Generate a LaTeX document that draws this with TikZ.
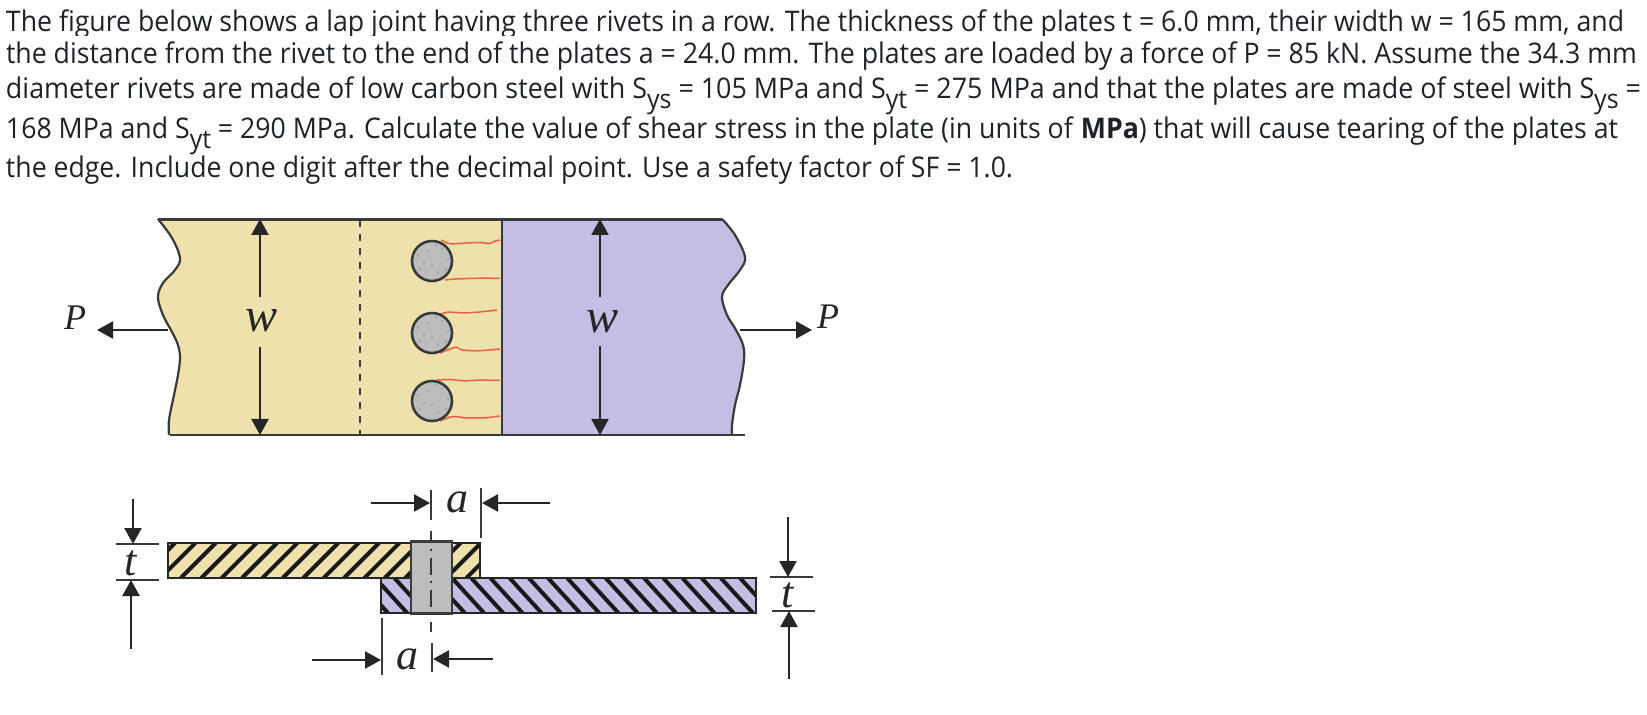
\documentclass[tikz,border=0pt]{standalone}
\usepackage{graphicx}
\usepackage{fontspec}
\setmainfont{Open Sans}
\newfontfamily\mathlike{Liberation Serif}
\usetikzlibrary{arrows.meta}
\definecolor{plateY}{HTML}{EEE1AB}
\definecolor{plateP}{HTML}{C5BDE3}
\definecolor{rivetG}{HTML}{BDBDBD}
\definecolor{inkline}{HTML}{3A3A3A}
\definecolor{crack}{HTML}{EE5F45}
\definecolor{txt}{HTML}{1F2328}
\newcommand{\lowsub}[1]{\raisebox{-0.33em}{\fontsize{13.2}{14}\selectfont #1}}
\newcommand{\fitline}[2]{\resizebox{#1pt}{\height}{\fontsize{14.2}{17}\selectfont\color{txt}#2}}
\tikzset{
  x=0.5pt,y=-0.5pt,
  textline/.style={anchor=base west,inner sep=0pt,outer sep=0pt},
  outline/.style={draw=inkline,line width=1.1pt},
  secline/.style={draw=black!85,line width=1.3pt},
  dimline/.style={draw=black!85,line width=1.15pt},
  dimarrow/.style={dimline,-{Triangle[length=8pt,width=8.5pt]}},
  thin dim/.style={draw=inkline,line width=0.9pt},
  hatchline/.style={draw=black!90,line width=2pt},
  rivethead/.style={circle,draw=inkline,line width=1.3pt,fill=rivetG,minimum size=20pt,inner sep=0pt},
  crackline/.style={draw=crack,line width=0.75pt},
  speck/.style={fill=gray!65!black,inner sep=0pt,minimum size=0.7pt,circle},
  ital/.style={font=\fontsize{#1}{#1}\selectfont\mathlike\itshape,inner sep=0pt,text=black!85},
}
\begin{document}
\begin{tikzpicture}
\useasboundingbox (0,0) rectangle (1647,715);
\fill[white] (0,0) rectangle (1647,715);

% question text
\node[textline] (l1) at (6,32) {\fitline{809}{The figure below shows a lap joint having three rivets in a row. The thickness of the plates t = 6.0 mm, their width w = 165 mm, and}};
\fill[white] (0,36) rectangle (1647,40);
\node[textline] (l2) at (6,64) {\fitline{815.5}{the distance from the rivet to the end of the plates a = 24.0 mm. The plates are loaded by a force of P = 85 kN. Assume the 34.3 mm}};
\node[textline] (l3) at (6,99) {\fitline{817.5}{diameter rivets are made of low carbon steel with S\lowsub{ys} = 105 MPa and S\lowsub{yt} = 275 MPa and that the plates are made of steel with S\lowsub{ys} =}};
\node[textline] (l4) at (6,139) {\fitline{806}{168 MPa and S\lowsub{yt} = 290 MPa. Calculate the value of shear stress in the plate (in units of \textbf{MPa}) that will cause tearing of the plates at}};
\node[textline] (l5) at (6,178) {\fitline{503.5}{the edge. Include one digit after the decimal point. Use a safety factor of SF = 1.0.}};

% top view: plates
\fill[plateY] plot[smooth,tension=0.6] coordinates {(158,219)(172,238)(180,258)(175,270)(163,283)(158,297)(163,315)(172,332)(178,345)(180,358)(178,375)(174,395)(169,420)(169,435)} -- (502,435) -- (502,219) -- cycle;
\fill[plateP] plot[smooth,tension=0.6] coordinates {(722,219)(735,235)(745,257)(740,270)(728,285)(722,297)(727,315)(736,330)(743,345)(744,360)(740,385)(735,405)(732,425)(732,435)} -- (502,435) -- (502,219) -- cycle;
\draw[outline] plot[smooth,tension=0.6] coordinates {(158,219)(172,238)(180,258)(175,270)(163,283)(158,297)(163,315)(172,332)(178,345)(180,358)(178,375)(174,395)(169,420)(169,435)};
\draw[outline] plot[smooth,tension=0.6] coordinates {(722,219)(735,235)(745,257)(740,270)(728,285)(722,297)(727,315)(736,330)(743,345)(744,360)(740,385)(735,405)(732,425)(732,435)};
\draw[outline] (158,219.5) -- (722,219.5);
\draw[outline] (170,435) -- (745,435);
\draw[outline] (502,219) -- (502,435);
\draw[draw=inkline,line width=1.2pt,dash pattern=on 3.5pt off 3.5pt] (360,220) -- (360,435);

% tear lines
\draw[crackline] (441,240) -- (447,243) -- (452,244) -- (466,243) -- (478,242.5) -- (490,243.5) -- (495,241) -- (500,240);
\draw[crackline] (445,280) -- (455,279) -- (470,278.5) -- (485,278) -- (500,278.5);
\draw[crackline] (437,315) -- (448,312) -- (465,313) -- (480,312) -- (497,310);
\draw[crackline] (440,353) -- (450,349) -- (456,347) -- (462,350) -- (475,351) -- (490,350) -- (500,349);
\draw[crackline] (437,380) -- (450,379.5) -- (465,381) -- (480,380) -- (500,380.5);
\draw[crackline] (440,421) -- (450,417) -- (456,416.5) -- (465,418) -- (485,418) -- (500,416);

% top view: rivets
\node[rivethead] (r1) at (432,261) {};
\node[rivethead] (r2) at (432,333) {};
\node[rivethead] (r3) at (432,401) {};
\foreach \r in {r1,r2,r3}{
  \foreach \dx/\dy in {-6/-4,-4/-1,3/-6,7/-4,-2/5,-7/3,5/6,8/1,0/-2,2/8}{
    \node[speck] at ([xshift=\dx pt,yshift=\dy pt]\r) {};
  }
}

% top view: width dimensions
\coordinate (wlt) at (260,219);
\coordinate (wlu) at (260,297);
\coordinate (wll) at (260,347);
\coordinate (wlb) at (260,435);
\coordinate (wrt) at (600,219);
\coordinate (wru) at (600,297);
\coordinate (wrl) at (600,346);
\coordinate (wrb) at (600,435);
\draw[dimarrow] (wlu) -- (wlt);
\draw[dimarrow] (wll) -- (wlb);
\draw[dimarrow] (wru) -- (wrt);
\draw[dimarrow] (wrl) -- (wrb);
\node[ital=24] (wl) at (262,321) {w};
\node[ital=24] (wr) at (602,322) {w};

% forces
\coordinate (pls) at (168,330);
\coordinate (ple) at (97,330);
\coordinate (prs) at (740,330);
\coordinate (pre) at (812,330);
\draw[dimarrow] (pls) -- (ple);
\draw[dimarrow] (prs) -- (pre);
\node[ital=18] (pl) at (75,318) {P};
\node[ital=18] (pr) at (828,317) {P};

% section: plates
\fill[plateY] (168,543) rectangle (480,578);
\fill[plateP] (381,578) rectangle (756,613);
\begin{scope}
  \clip (168,543) rectangle (480,578);
  \foreach \k in {0,...,18}{
    \draw[hatchline] ({140+20.4*\k},578) -- ({175+20.4*\k},543);
  }
\end{scope}
\begin{scope}
  \clip (381,578) rectangle (756,613);
  \foreach \k in {-1,...,21}{
    \draw[hatchline] ({356+19.2*\k},578) -- ({388+19.2*\k},613);
  }
\end{scope}
\draw[secline] (168,543) rectangle (480,578);
\draw[secline] (381,578) rectangle (756,613);
\node[draw=inkline,line width=1.3pt,fill=rivetG,inner sep=0pt,minimum width=20.5pt,minimum height=36pt] (rv) at (431.5,577.5) {};

% section: centre line
\coordinate (c0) at (431,490);
\coordinate (c1) at (431,520);
\coordinate (c2) at (431,531);
\coordinate (c3) at (431,541);
\coordinate (c4) at (431,549);
\coordinate (c4b) at (431,551);
\coordinate (c5) at (431,558);
\coordinate (c6) at (431,575);
\coordinate (c6a) at (431,581);
\coordinate (c6b) at (431,583);
\coordinate (c7) at (431,590);
\coordinate (c8) at (431,607);
\coordinate (c9) at (431,622);
\coordinate (c10) at (431,632);
\coordinate (c11) at (432,643);
\coordinate (c12) at (432,672);
\draw[thin dim] (c0) -- (c1);
\draw[thin dim] (c2) -- (c3);
\draw[thin dim] (c4) -- (c4b);
\draw[thin dim] (c5) -- (c6);
\draw[thin dim] (c6a) -- (c6b);
\draw[thin dim] (c7) -- (c8);
\draw[thin dim] (c9) -- (c10);
\draw[thin dim] (c11) -- (c12);

% section: a dimensions
\coordinate (ar1) at (481,488);
\coordinate (ar2) at (481,538);
\coordinate (ab1) at (382,618);
\coordinate (ab2) at (382,675);
\draw[thin dim] (ar1) -- (ar2);
\draw[thin dim] (ab1) -- (ab2);
\coordinate (a1s) at (371,503);
\coordinate (a1e) at (430,503);
\coordinate (a2s) at (550,503);
\coordinate (a2e) at (482,503);
\coordinate (a3s) at (312,660);
\coordinate (a3e) at (381,660);
\coordinate (a4s) at (493,659);
\coordinate (a4e) at (433,659);
\draw[dimarrow] (a1s) -- (a1e);
\draw[dimarrow] (a2s) -- (a2e);
\draw[dimarrow] (a3s) -- (a3e);
\draw[dimarrow] (a4s) -- (a4e);
\node[ital=22] (at) at (457,502) {a};
\node[ital=22] (ab) at (407,659) {a};

% section: t dimensions
\coordinate (tl1a) at (116,544);
\coordinate (tl1b) at (159,544);
\coordinate (tl2a) at (116,580);
\coordinate (tl2b) at (159,580);
\coordinate (tr1a) at (770,577);
\coordinate (tr1b) at (813,577);
\coordinate (tr2a) at (772,611);
\coordinate (tr2b) at (815,611);
\draw[thin dim] (tl1a) -- (tl1b);
\draw[thin dim] (tl2a) -- (tl2b);
\draw[thin dim] (tr1a) -- (tr1b);
\draw[thin dim] (tr2a) -- (tr2b);
\coordinate (tl3) at (133,499);
\coordinate (tl4) at (133,544);
\coordinate (tl5) at (131,649);
\coordinate (tl6) at (131,580);
\coordinate (tr3) at (788,517);
\coordinate (tr4) at (788,577);
\coordinate (tr5) at (789,679);
\coordinate (tr6) at (789,611);
\draw[dimarrow] (tl3) -- (tl4);
\draw[dimarrow] (tl5) -- (tl6);
\draw[dimarrow] (tr3) -- (tr4);
\draw[dimarrow] (tr5) -- (tr6);
\node[ital=22] (tl) at (131,563) {t};
\node[ital=22] (tr) at (788,595) {t};
\end{tikzpicture}
\end{document}
